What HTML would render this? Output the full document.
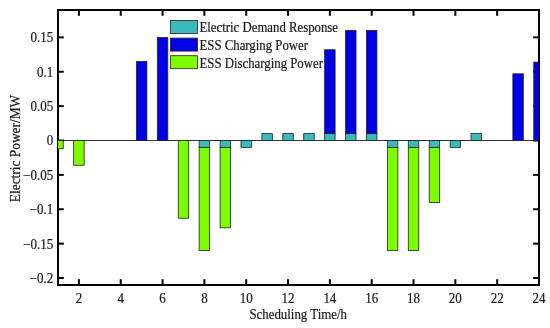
<!DOCTYPE html>
<html><head><meta charset="utf-8"><style>
html,body{margin:0;padding:0;background:#fff;width:550px;height:328px;overflow:hidden}
svg{display:block}
text{font-family:"Liberation Serif",serif;font-size:13px;fill:#1a1a1a;stroke:#1a1a1a;stroke-width:0.2px}
</style></head><body>
<svg width="550" height="328" viewBox="0 0 550 328">
<defs><clipPath id="c"><rect x="58.00" y="10.00" width="481.00" height="275.00"/></clipPath></defs>
<g stroke="#000" stroke-width="2"><line x1="78.91" y1="285.00" x2="78.91" y2="279.20"/><line x1="78.91" y1="10.00" x2="78.91" y2="15.80"/><line x1="120.74" y1="285.00" x2="120.74" y2="279.20"/><line x1="120.74" y1="10.00" x2="120.74" y2="15.80"/><line x1="162.57" y1="285.00" x2="162.57" y2="279.20"/><line x1="162.57" y1="10.00" x2="162.57" y2="15.80"/><line x1="204.39" y1="285.00" x2="204.39" y2="279.20"/><line x1="204.39" y1="10.00" x2="204.39" y2="15.80"/><line x1="246.22" y1="285.00" x2="246.22" y2="279.20"/><line x1="246.22" y1="10.00" x2="246.22" y2="15.80"/><line x1="288.04" y1="285.00" x2="288.04" y2="279.20"/><line x1="288.04" y1="10.00" x2="288.04" y2="15.80"/><line x1="329.87" y1="285.00" x2="329.87" y2="279.20"/><line x1="329.87" y1="10.00" x2="329.87" y2="15.80"/><line x1="371.70" y1="285.00" x2="371.70" y2="279.20"/><line x1="371.70" y1="10.00" x2="371.70" y2="15.80"/><line x1="413.52" y1="285.00" x2="413.52" y2="279.20"/><line x1="413.52" y1="10.00" x2="413.52" y2="15.80"/><line x1="455.35" y1="285.00" x2="455.35" y2="279.20"/><line x1="455.35" y1="10.00" x2="455.35" y2="15.80"/><line x1="497.17" y1="285.00" x2="497.17" y2="279.20"/><line x1="497.17" y1="10.00" x2="497.17" y2="15.80"/><line x1="539.00" y1="285.00" x2="539.00" y2="279.20"/><line x1="539.00" y1="10.00" x2="539.00" y2="15.80"/><line x1="58.00" y1="37.38" x2="63.80" y2="37.38"/><line x1="539.00" y1="37.38" x2="533.20" y2="37.38"/><line x1="58.00" y1="71.75" x2="63.80" y2="71.75"/><line x1="539.00" y1="71.75" x2="533.20" y2="71.75"/><line x1="58.00" y1="106.12" x2="63.80" y2="106.12"/><line x1="539.00" y1="106.12" x2="533.20" y2="106.12"/><line x1="58.00" y1="140.50" x2="63.80" y2="140.50"/><line x1="539.00" y1="140.50" x2="533.20" y2="140.50"/><line x1="58.00" y1="174.88" x2="63.80" y2="174.88"/><line x1="539.00" y1="174.88" x2="533.20" y2="174.88"/><line x1="58.00" y1="209.25" x2="63.80" y2="209.25"/><line x1="539.00" y1="209.25" x2="533.20" y2="209.25"/><line x1="58.00" y1="243.62" x2="63.80" y2="243.62"/><line x1="539.00" y1="243.62" x2="533.20" y2="243.62"/><line x1="58.00" y1="278.00" x2="63.80" y2="278.00"/><line x1="539.00" y1="278.00" x2="533.20" y2="278.00"/></g>
<rect x="58.00" y="10.00" width="481.00" height="275.00" fill="none" stroke="#000" stroke-width="2"/>
<g clip-path="url(#c)">
<line x1="58.00" y1="140.50" x2="539.00" y2="140.50" stroke="#333" stroke-width="1"/>
<rect x="52.77" y="140.50" width="10.46" height="8.25" fill="#7efc00" stroke="#222" stroke-width="0.8"/><rect x="73.68" y="140.50" width="10.46" height="24.75" fill="#7efc00" stroke="#222" stroke-width="0.8"/><rect x="136.42" y="61.44" width="10.46" height="79.06" fill="#0000e8" stroke="#222" stroke-width="0.8"/><rect x="157.34" y="37.38" width="10.46" height="103.12" fill="#0000e8" stroke="#222" stroke-width="0.8"/><rect x="178.25" y="140.50" width="10.46" height="77.69" fill="#7efc00" stroke="#222" stroke-width="0.8"/><rect x="199.16" y="140.50" width="10.46" height="6.88" fill="#3ababa" stroke="#222" stroke-width="0.8"/><rect x="199.16" y="147.38" width="10.46" height="103.12" fill="#7efc00" stroke="#222" stroke-width="0.8"/><rect x="220.08" y="140.50" width="10.46" height="6.88" fill="#3ababa" stroke="#222" stroke-width="0.8"/><rect x="220.08" y="147.38" width="10.46" height="80.44" fill="#7efc00" stroke="#222" stroke-width="0.8"/><rect x="240.99" y="140.50" width="10.46" height="6.88" fill="#3ababa" stroke="#222" stroke-width="0.8"/><rect x="261.90" y="133.62" width="10.46" height="6.88" fill="#3ababa" stroke="#222" stroke-width="0.8"/><rect x="282.82" y="133.62" width="10.46" height="6.88" fill="#3ababa" stroke="#222" stroke-width="0.8"/><rect x="303.73" y="133.62" width="10.46" height="6.88" fill="#3ababa" stroke="#222" stroke-width="0.8"/><rect x="324.64" y="133.62" width="10.46" height="6.88" fill="#3ababa" stroke="#222" stroke-width="0.8"/><rect x="324.64" y="49.75" width="10.46" height="83.88" fill="#0000e8" stroke="#222" stroke-width="0.8"/><rect x="345.55" y="133.62" width="10.46" height="6.88" fill="#3ababa" stroke="#222" stroke-width="0.8"/><rect x="345.55" y="30.50" width="10.46" height="103.12" fill="#0000e8" stroke="#222" stroke-width="0.8"/><rect x="366.47" y="133.62" width="10.46" height="6.88" fill="#3ababa" stroke="#222" stroke-width="0.8"/><rect x="366.47" y="30.50" width="10.46" height="103.12" fill="#0000e8" stroke="#222" stroke-width="0.8"/><rect x="387.38" y="140.50" width="10.46" height="6.88" fill="#3ababa" stroke="#222" stroke-width="0.8"/><rect x="387.38" y="147.38" width="10.46" height="103.12" fill="#7efc00" stroke="#222" stroke-width="0.8"/><rect x="408.29" y="140.50" width="10.46" height="6.88" fill="#3ababa" stroke="#222" stroke-width="0.8"/><rect x="408.29" y="147.38" width="10.46" height="103.12" fill="#7efc00" stroke="#222" stroke-width="0.8"/><rect x="429.21" y="140.50" width="10.46" height="6.88" fill="#3ababa" stroke="#222" stroke-width="0.8"/><rect x="429.21" y="147.38" width="10.46" height="55.00" fill="#7efc00" stroke="#222" stroke-width="0.8"/><rect x="450.12" y="140.50" width="10.46" height="6.88" fill="#3ababa" stroke="#222" stroke-width="0.8"/><rect x="471.03" y="133.62" width="10.46" height="6.88" fill="#3ababa" stroke="#222" stroke-width="0.8"/><rect x="512.86" y="73.81" width="10.46" height="66.69" fill="#0000e8" stroke="#222" stroke-width="0.8"/><rect x="533.77" y="62.12" width="10.46" height="78.38" fill="#0000e8" stroke="#222" stroke-width="0.8"/>
</g>
<text transform="translate(78.91,302.50) scale(1,1.05)" text-anchor="middle">2</text><text transform="translate(120.74,302.50) scale(1,1.05)" text-anchor="middle">4</text><text transform="translate(162.57,302.50) scale(1,1.05)" text-anchor="middle">6</text><text transform="translate(204.39,302.50) scale(1,1.05)" text-anchor="middle">8</text><text transform="translate(246.22,302.50) scale(1,1.05)" text-anchor="middle">10</text><text transform="translate(288.04,302.50) scale(1,1.05)" text-anchor="middle">12</text><text transform="translate(329.87,302.50) scale(1,1.05)" text-anchor="middle">14</text><text transform="translate(371.70,302.50) scale(1,1.05)" text-anchor="middle">16</text><text transform="translate(413.52,302.50) scale(1,1.05)" text-anchor="middle">18</text><text transform="translate(455.35,302.50) scale(1,1.05)" text-anchor="middle">20</text><text transform="translate(497.17,302.50) scale(1,1.05)" text-anchor="middle">22</text><text transform="translate(539.00,302.50) scale(1,1.05)" text-anchor="middle">24</text><text transform="translate(53.30,42.27) scale(1,1.08)" text-anchor="end">0.15</text><text transform="translate(53.30,76.65) scale(1,1.08)" text-anchor="end">0.1</text><text transform="translate(53.30,111.03) scale(1,1.08)" text-anchor="end">0.05</text><text transform="translate(53.30,145.40) scale(1,1.08)" text-anchor="end">0</text><text transform="translate(53.30,179.78) scale(1,1.08)" text-anchor="end">−0.05</text><text transform="translate(53.30,214.15) scale(1,1.08)" text-anchor="end">−0.1</text><text transform="translate(53.30,248.53) scale(1,1.08)" text-anchor="end">−0.15</text><text transform="translate(53.30,282.90) scale(1,1.08)" text-anchor="end">−0.2</text>
<rect x="170.5" y="20.50" width="27" height="13" fill="#3ababa" stroke="#222" stroke-width="0.8"/><text transform="translate(199.5,32.05) scale(0.985,1.08)">Electric Demand Response</text><rect x="170.5" y="38.10" width="27" height="13" fill="#0000e8" stroke="#222" stroke-width="0.8"/><text transform="translate(199.5,50.03) scale(0.985,1.08)">ESS Charging Power</text><rect x="170.5" y="55.70" width="27" height="13" fill="#7efc00" stroke="#222" stroke-width="0.8"/><text transform="translate(199.5,68.01) scale(0.985,1.08)">ESS Discharging Power</text>
<text transform="translate(298.20,319.00) scale(0.99,1.08)" text-anchor="middle">Scheduling Time/h</text>
<text transform="translate(19.8,148.5) rotate(-90) scale(1.03,1.04)" text-anchor="middle">Electric Power/MW</text>
</svg>
</body></html>
